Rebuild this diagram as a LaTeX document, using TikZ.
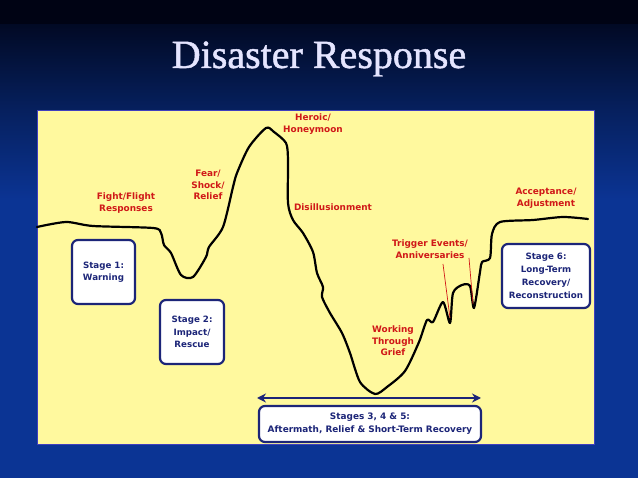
\documentclass[tikz,border=0pt]{standalone}
\usepackage{fontspec}
\setmainfont{DejaVu Sans}
\newfontfamily\titlefont[FakeBold=1.2]{Liberation Serif}
\usetikzlibrary{arrows.meta}
\definecolor{navy}{HTML}{1C2578}
\definecolor{lblred}{HTML}{D01818}
\definecolor{panel}{HTML}{FFF99E}
\definecolor{bgtop}{HTML}{000314}
\definecolor{bgmid}{HTML}{06205E}
\definecolor{bgbot}{HTML}{0B3494}
\tikzset{
  lbl/.style={text=lblred, font=\bfseries\fontsize{8.9}{11.6}\selectfont, align=center, inner sep=0pt},
  stagebox/.style={draw=navy, line width=2.2pt, fill=white, rounded corners=6pt, text=navy,
    font=\bfseries\fontsize{8.7}{12.5}\selectfont, align=center, inner sep=0pt},
  curve/.style={line width=2.2pt, black, line join=round, line cap=round},
  pointer/.style={lblred, line width=0.7pt}
}
\begin{document}
\begin{tikzpicture}[x=1pt,y=-1pt]
\useasboundingbox (0,0) rectangle (638,478);
% background
\fill[bgbot] (0,0) rectangle (638,478);
\shade[top color=bgtop, bottom color=bgmid] (0,0) rectangle (638,110);
\shade[top color=bgmid, bottom color=bgbot] (0,110) rectangle (638,200);
\fill[bgtop] (0,0) rectangle (638,24);
% title
\node[text=white!90!blue, font=\titlefont\fontsize{40}{44}\selectfont] (title) at (319,59) {Disaster Response};
% panel
\node[draw=gray!50!blue, line width=0.6pt, fill=panel, minimum width=557pt, minimum height=334pt, inner sep=0pt] (panel) at (315.5,277) {};
% curve
\draw[curve] plot[smooth, tension=0.45] coordinates {
 (37,227) (66,222) (93,226) (153,228) (161,233) (164,245) (171,253) (181,275) (193,277)
 (206,257) (209,247) (223,227) (233,187) (237,173) (249,147) (266,128) (274,132) (286,143)
 (288,160) (288,203) (293,220) (303,233) (313,252) (317,273) (323,287) (322,297) (330,313)
 (342,333) (350,353) (360,382) (375,394) (387,387) (405,371) (419,342) (427,320) (433,322)
 (443,302) (450,323) (453,293) (462,285) (470,286) (474,308) (480,272) (482,262) (490,258)
 (492,234) (500,222) (533,220) (563,217) (588,219)};
% pointers
\coordinate (p1a) at (443,264); \coordinate (p1b) at (450,318);
\coordinate (p2a) at (469,258); \coordinate (p2b) at (473,304);
\draw[pointer] (p1a) -- (p1b);
\draw[pointer] (p2a) -- (p2b);
% labels
\node[lbl] (heroic) at (313,124) {Heroic/\\Honeymoon};
\node[lbl] (fear) at (208,185) {Fear/\\Shock/\\Relief};
\node[lbl] (fight) at (126,203) {Fight/Flight\\Responses};
\node[lbl] (disil) at (333,207) {Disillusionment};
\node[lbl] (accept) at (546,198) {Acceptance/\\Adjustment};
\node[lbl] (trigger) at (430,249) {Trigger Events/\\Anniversaries};
\node[lbl] (grief) at (393,341) {Working\\Through\\Grief};
% stage boxes
\node[stagebox, minimum width=63pt, minimum height=64pt] (s1) at (103.5,272) {Stage 1:\\Warning};
\node[stagebox, minimum width=64pt, minimum height=64pt] (s2) at (192,332) {Stage 2:\\Impact/\\Rescue};
\node[stagebox, minimum width=88pt, minimum height=64pt, font=\bfseries\fontsize{8.7}{13}\selectfont] (s6) at (546,276) {Stage 6:\\Long-Term\\Recovery/\\Reconstruction};
\node[stagebox, minimum width=222pt, minimum height=36pt, font=\bfseries\fontsize{8.9}{13}\selectfont] (s345) at (370,424) {Stages 3, 4 \& 5:\\Aftermath, Relief \& Short-Term Recovery};
% double arrow
\coordinate (aL) at (257,398); \coordinate (aR) at (481,398);
\draw[navy, line width=1.6pt, {Stealth[length=9pt,width=9pt,inset=3pt]}-{Stealth[length=9pt,width=9pt,inset=3pt]}] (aL) -- (aR);
\end{tikzpicture}
\end{document}
